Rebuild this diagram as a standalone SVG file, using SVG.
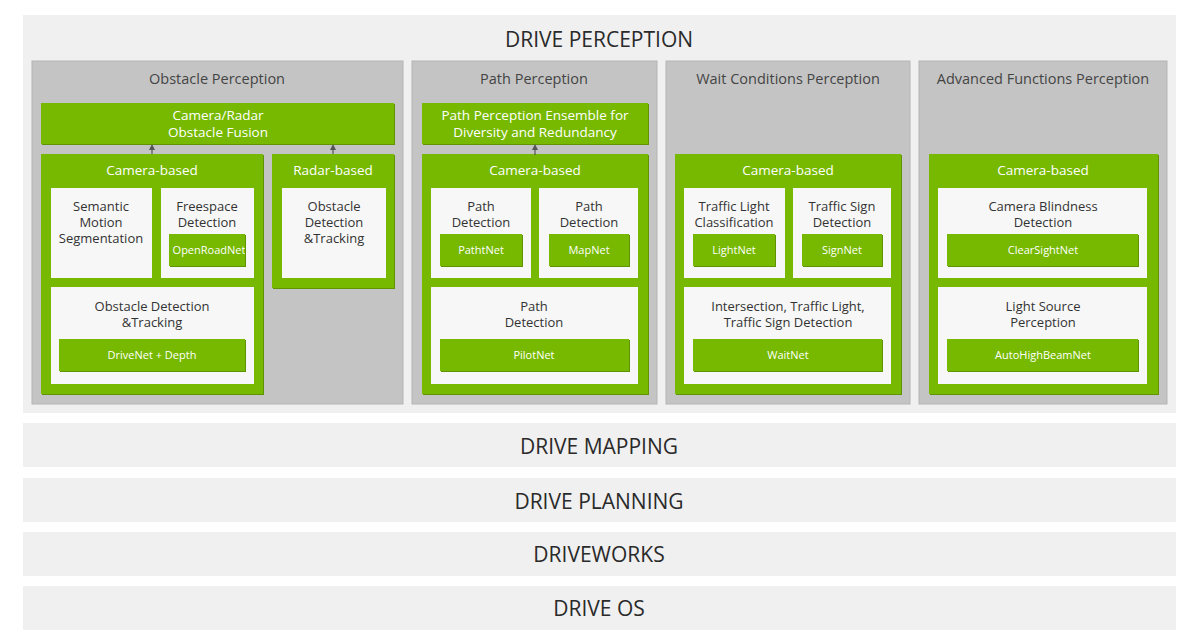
<svg xmlns="http://www.w3.org/2000/svg" width="1200" height="642" viewBox="0 0 1200 642">
<defs>
<style>
.bg{fill:#ffffff}
.layer{fill:#f0f0f0}
.col{fill:#c4c4c4;stroke:#b4b4b4;stroke-width:1}
.g{fill:#76b900}
.gs{fill:#5e9400}
.w{fill:#f7f7f7}
text{font-family:"Open Sans","DejaVu Sans",sans-serif;text-anchor:middle}
.big{font-size:21px;fill:#2a2a2a}
.ct{font-size:14.5px;fill:#444444}
.gt{font-size:13.5px;fill:#ffffff}
.wt{font-size:13px;fill:#333333}
.st{font-size:11px;fill:#ffffff}
.conn{stroke:#555555;stroke-width:1.2;fill:none;marker-end:url(#ah)}
</style>
<marker id="ah" viewBox="0 0 6 6" refX="3" refY="3" markerWidth="5" markerHeight="5" orient="auto">
<path d="M0,0 L6,3 L0,6 z" fill="#555555"/>
</marker>
<clipPath id="clipORN"><rect x="169" y="234" width="76" height="32"/></clipPath>
</defs>
<rect class="bg" x="0" y="0" width="1200" height="642"/>

<g id="drive-perception">
<rect class="layer" x="23" y="15" width="1153" height="398"/>
<text class="big" x="599" y="47">DRIVE PERCEPTION</text>
</g>

<g id="col-obstacle">
<rect class="col" x="32" y="61" width="371" height="343"/>
<text class="ct" x="217" y="84">Obstacle Perception</text>
</g>
<g id="col-path">
<rect class="col" x="412" y="61" width="245" height="343"/>
<text class="ct" x="534" y="84">Path Perception</text>
</g>
<g id="col-wait">
<rect class="col" x="666" y="61" width="244" height="343"/>
<text class="ct" x="788" y="84">Wait Conditions Perception</text>
</g>
<g id="col-advanced">
<rect class="col" x="919" y="61" width="248" height="343"/>
<text class="ct" x="1043" y="84">Advanced Functions Perception</text>
</g>

<!-- Obstacle column -->
<g id="obstacle-fusion">
<rect class="gs" x="42" y="104" width="353" height="41"/>
<rect class="g" x="41" y="103" width="353" height="41"/>
<text class="gt" x="218" y="120">Camera/Radar</text>
<text class="gt" x="218" y="137">Obstacle Fusion</text>
</g>
<g id="obstacle-camera">
<rect class="gs" x="42" y="155" width="222" height="240"/>
<rect class="g" x="41" y="154" width="222" height="240"/>
<text class="gt" x="152" y="175">Camera-based</text>
</g>
<g id="obstacle-radar">
<rect class="gs" x="273" y="155" width="122" height="134"/>
<rect class="g" x="272" y="154" width="122" height="134"/>
<text class="gt" x="333" y="175">Radar-based</text>
</g>
<g id="semantic-motion">
<rect class="w" x="51" y="188" width="101" height="90"/>
<text class="wt" x="101" y="211">Semantic</text>
<text class="wt" x="101" y="227">Motion</text>
<text class="wt" x="101" y="243">Segmentation</text>
</g>
<g id="freespace">
<rect class="w" x="161" y="188" width="93" height="90"/>
<text class="wt" x="207" y="211">Freespace</text>
<text class="wt" x="207" y="227">Detection</text>
<rect class="gs" x="170" y="235" width="76" height="32"/>
<rect class="g" x="169" y="234" width="76" height="32"/>
<text class="st" x="209" y="254" clip-path="url(#clipORN)">OpenRoadNet</text>
</g>
<g id="radar-detection">
<rect class="w" x="282" y="188" width="104" height="90"/>
<text class="wt" x="334" y="211">Obstacle</text>
<text class="wt" x="334" y="227">Detection</text>
<text class="wt" x="334" y="243">&amp;Tracking</text>
</g>
<g id="obstacle-detection">
<rect class="w" x="51" y="287" width="203" height="97"/>
<text class="wt" x="152" y="311">Obstacle Detection</text>
<text class="wt" x="152" y="327">&amp;Tracking</text>
<rect class="gs" x="60" y="340" width="186" height="32"/>
<rect class="g" x="59" y="339" width="186" height="32"/>
<text class="st" x="152" y="359">DriveNet + Depth</text>
</g>

<!-- Path column -->
<g id="path-ensemble">
<rect class="gs" x="423" y="104" width="226" height="41"/>
<rect class="g" x="422" y="103" width="226" height="41"/>
<text class="gt" x="535" y="120">Path Perception Ensemble for</text>
<text class="gt" x="535" y="137">Diversity and Redundancy</text>
</g>
<g id="path-camera">
<rect class="gs" x="423" y="155" width="226" height="240"/>
<rect class="g" x="422" y="154" width="226" height="240"/>
<text class="gt" x="535" y="175">Camera-based</text>
</g>
<g id="path-detection-1">
<rect class="w" x="431" y="188" width="100" height="90"/>
<text class="wt" x="481" y="211">Path</text>
<text class="wt" x="481" y="227">Detection</text>
<rect class="gs" x="441" y="235" width="82" height="32"/>
<rect class="g" x="440" y="234" width="82" height="32"/>
<text class="st" x="481" y="254">PathtNet</text>
</g>
<g id="path-detection-2">
<rect class="w" x="539" y="188" width="99" height="90"/>
<text class="wt" x="589" y="211">Path</text>
<text class="wt" x="589" y="227">Detection</text>
<rect class="gs" x="550" y="235" width="80" height="32"/>
<rect class="g" x="549" y="234" width="80" height="32"/>
<text class="st" x="589" y="254">MapNet</text>
</g>
<g id="path-detection-3">
<rect class="w" x="431" y="287" width="207" height="97"/>
<text class="wt" x="534" y="311">Path</text>
<text class="wt" x="534" y="327">Detection</text>
<rect class="gs" x="441" y="340" width="189" height="32"/>
<rect class="g" x="440" y="339" width="189" height="32"/>
<text class="st" x="534" y="359">PilotNet</text>
</g>

<!-- Wait column -->
<g id="wait-camera">
<rect class="gs" x="676" y="155" width="226" height="240"/>
<rect class="g" x="675" y="154" width="226" height="240"/>
<text class="gt" x="788" y="175">Camera-based</text>
</g>
<g id="traffic-light">
<rect class="w" x="684" y="188" width="101" height="90"/>
<text class="wt" x="734" y="211">Traffic Light</text>
<text class="wt" x="734" y="227">Classification</text>
<rect class="gs" x="694" y="235" width="82" height="32"/>
<rect class="g" x="693" y="234" width="82" height="32"/>
<text class="st" x="734" y="254">LightNet</text>
</g>
<g id="traffic-sign">
<rect class="w" x="793" y="188" width="98" height="90"/>
<text class="wt" x="842" y="211">Traffic Sign</text>
<text class="wt" x="842" y="227">Detection</text>
<rect class="gs" x="803" y="235" width="80" height="32"/>
<rect class="g" x="802" y="234" width="80" height="32"/>
<text class="st" x="842" y="254">SignNet</text>
</g>
<g id="intersection">
<rect class="w" x="684" y="287" width="207" height="97"/>
<text class="wt" x="788" y="311">Intersection, Traffic Light,</text>
<text class="wt" x="788" y="327">Traffic Sign Detection</text>
<rect class="gs" x="694" y="340" width="189" height="32"/>
<rect class="g" x="693" y="339" width="189" height="32"/>
<text class="st" x="788" y="359">WaitNet</text>
</g>

<!-- Advanced column -->
<g id="adv-camera">
<rect class="gs" x="930" y="155" width="229" height="240"/>
<rect class="g" x="929" y="154" width="229" height="240"/>
<text class="gt" x="1043" y="175">Camera-based</text>
</g>
<g id="camera-blindness">
<rect class="w" x="938" y="188" width="209" height="90"/>
<text class="wt" x="1043" y="211">Camera Blindness</text>
<text class="wt" x="1043" y="227">Detection</text>
<rect class="gs" x="948" y="235" width="191" height="32"/>
<rect class="g" x="947" y="234" width="191" height="32"/>
<text class="st" x="1043" y="254">ClearSightNet</text>
</g>
<g id="light-source">
<rect class="w" x="938" y="287" width="209" height="97"/>
<text class="wt" x="1043" y="311">Light Source</text>
<text class="wt" x="1043" y="327">Perception</text>
<rect class="gs" x="948" y="340" width="191" height="32"/>
<rect class="g" x="947" y="339" width="191" height="32"/>
<text class="st" x="1043" y="359">AutoHighBeamNet</text>
</g>

<!-- lower layers -->
<g id="drive-mapping">
<rect class="layer" x="23" y="423" width="1153" height="44"/>
<text class="big" x="599" y="454">DRIVE MAPPING</text>
</g>
<g id="drive-planning">
<rect class="layer" x="23" y="478" width="1153" height="44"/>
<text class="big" x="599" y="509">DRIVE PLANNING</text>
</g>
<g id="driveworks">
<rect class="layer" x="23" y="532" width="1153" height="44"/>
<text class="big" x="599" y="562">DRIVEWORKS</text>
</g>
<g id="drive-os">
<rect class="layer" x="23" y="586" width="1153" height="44"/>
<text class="big" x="599" y="616">DRIVE OS</text>
</g>

<g id="connectors">
<line class="conn" x1="152" y1="154" x2="152" y2="147"/>
<line class="conn" x1="333" y1="154" x2="333" y2="147"/>
<line class="conn" x1="535" y1="155" x2="535" y2="147"/>
</g>
</svg>
